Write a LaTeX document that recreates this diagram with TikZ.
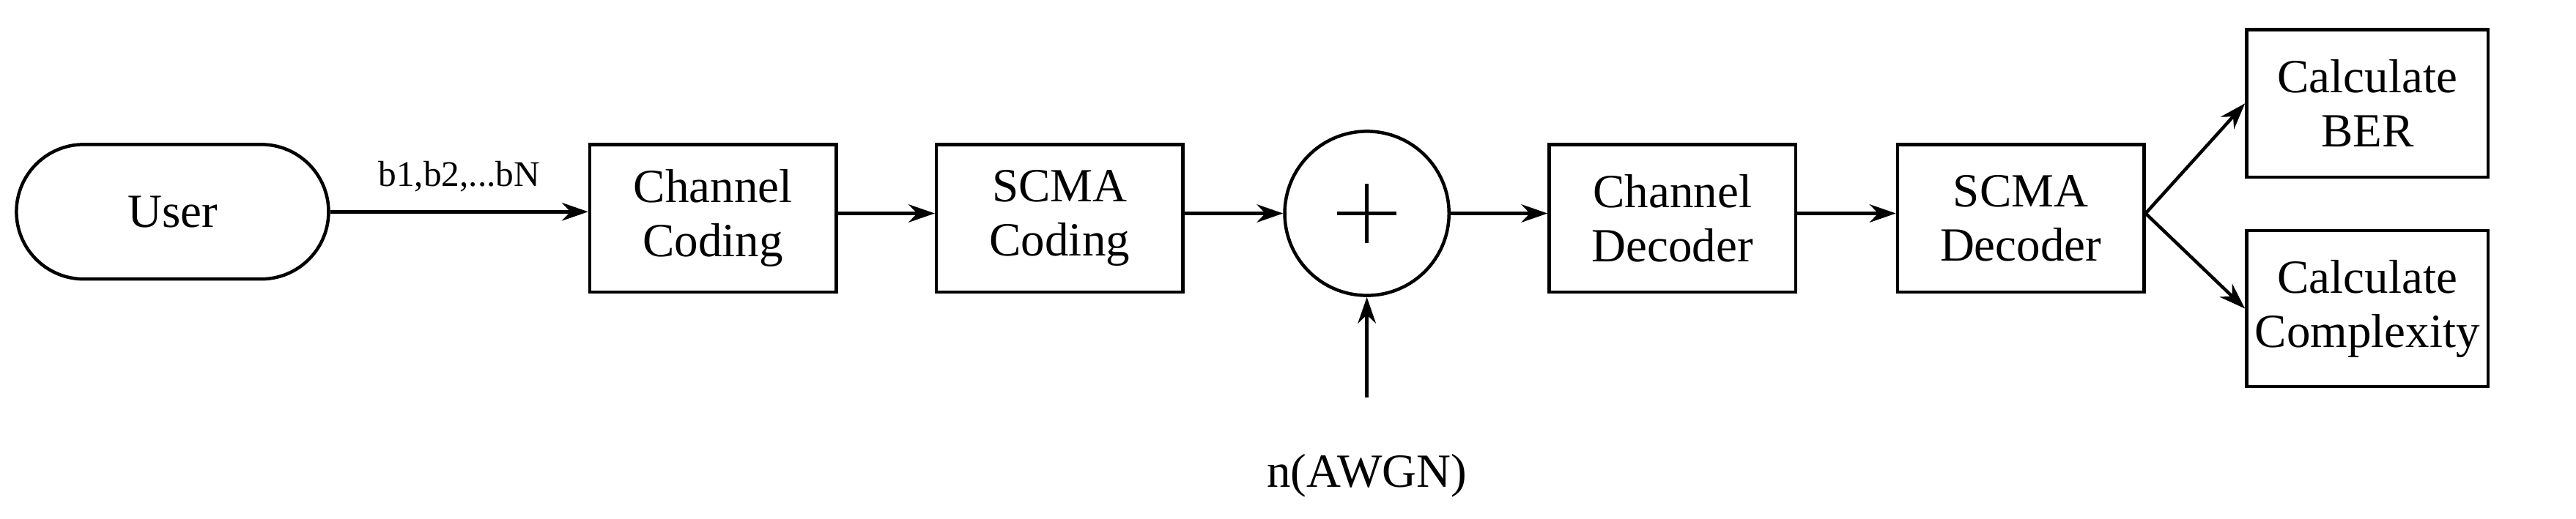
\documentclass[tikz,border=0pt]{standalone}
\usepackage{fontspec}
\setmainfont{Liberation Serif}
\usetikzlibrary{arrows.meta}
\begin{document}
\begin{tikzpicture}[x=1pt,y=-1pt,
  box/.style={draw,line width=2pt,minimum width=150pt,minimum height=90pt,align=center,font=\fontsize{29}{33}\selectfont,inner sep=0pt},
  arr/.style={-{Stealth[length=16pt,width=11pt]},line width=2pt}]
\useasboundingbox (0,0) rectangle (1568,316);
\node[box,rounded corners=41pt,minimum width=190pt,minimum height=82pt] (user) at (105,129) {User};
\node[box] (cc) at (434,133) {Channel\\Coding};
\node[box] (sc) at (645,133) {SCMA\\Coding};
\node[draw,circle,line width=2pt,minimum size=100pt,inner sep=0pt] (sum) at (832,130) {};
\draw[line width=2pt] ([xshift=-18pt]sum.center) -- ([xshift=18pt]sum.center) ([yshift=-18pt]sum.center) -- ([yshift=18pt]sum.center);
\node[font=\fontsize{29}{33}\selectfont] (n) at (832,290) {n(AWGN)};
\coordinate (nt) at (832,242);
\node[box] (cd) at (1018,133) {Channel\\Decoder};
\node[box] (sd) at (1230,133) {SCMA\\Decoder};
\node[box,minimum width=147pt] (ber) at (1441,63) {Calculate\\BER};
\node[box,minimum width=147pt,minimum height=95pt] (cx) at (1441,188) {Calculate\\Complexity};
\draw[arr] (user) -- node[above=8pt,font=\fontsize{22}{26}\selectfont]{b1,b2,...bN} (cc.west|-user);
\draw[arr] (cc.east|-sum) -- (sc.west|-sum);
\draw[arr] (sc.east|-sum) -- (sum);
\draw[arr] (sum) -- (cd.west|-sum);
\draw[arr] (cd.east|-sum) -- (sd.west|-sum);
\draw[arr] (nt) -- (sum);
\coordinate (so) at (sd.east|-sum);
\draw[arr] (so) -- (ber.west);
\draw[arr] (so) -- (cx.west);
\end{tikzpicture}
\end{document}
